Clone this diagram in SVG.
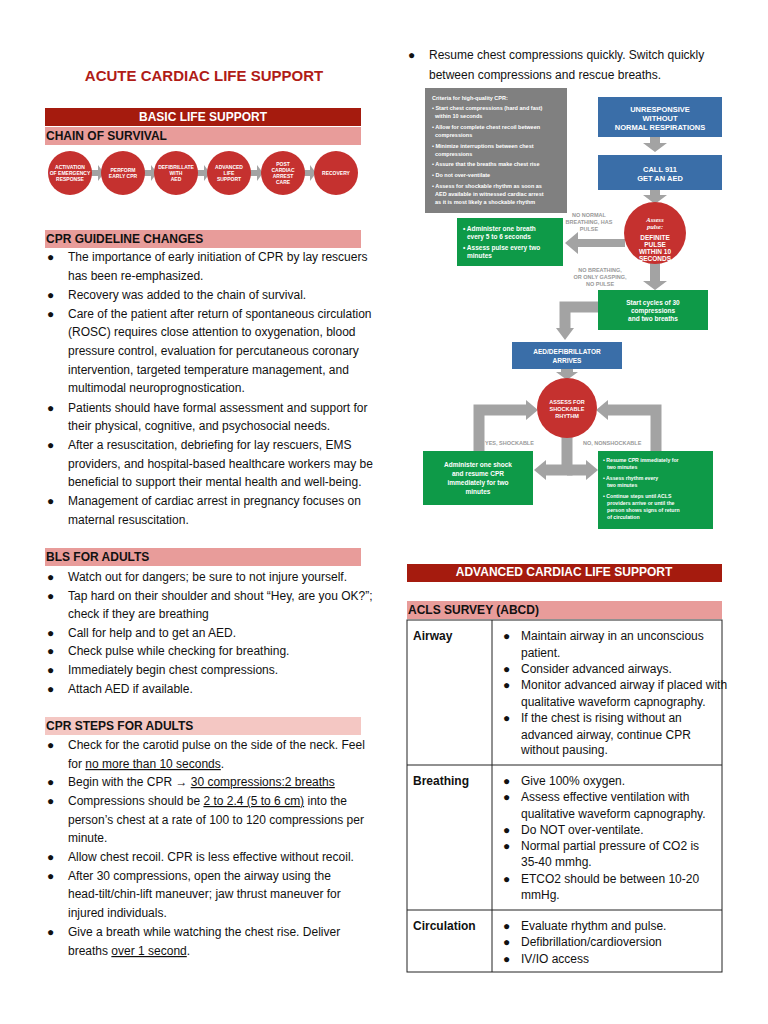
<svg xmlns="http://www.w3.org/2000/svg" width="768" height="1024" viewBox="0 0 768 1024">
<style>
.t{font-family:"Liberation Sans",Arial,sans-serif;font-size:12px;fill:#111}
.b{font-weight:bold}
.hw{font-family:"Liberation Sans",Arial,sans-serif;font-size:12px;font-weight:bold;fill:#fff}
.hp{font-family:"Liberation Sans",Arial,sans-serif;font-size:12px;font-weight:bold;fill:#111}
.f{font-family:"Liberation Sans",Arial,sans-serif;font-weight:bold;fill:#fff}
.g{font-family:"Liberation Sans",Arial,sans-serif;font-weight:bold;fill:#999;font-size:5.5px}
.c{font-family:"Liberation Sans",Arial,sans-serif;font-weight:bold;fill:#fff;font-size:5px}
.ar{stroke:#a3a3a3;stroke-width:11;fill:none}
.ah{fill:#a3a3a3}
.circ{fill:#c5312f}
.grn{fill:#0e9a48}
.blu{fill:#3a6ea8}
.cell{fill:none;stroke:#222;stroke-width:1}
</style>
<rect width="768" height="1024" fill="#fff"/>

<text x="204" y="81" text-anchor="middle" font-family="Liberation Sans,Arial,sans-serif" font-size="15" font-weight="bold" fill="#b01c17">ACUTE CARDIAC LIFE SUPPORT</text>
<rect x="45" y="108" width="316" height="18" fill="#a51b0e"/>
<text x="203" y="121" text-anchor="middle" class="hw">BASIC LIFE SUPPORT</text>
<rect x="45" y="127" width="316" height="18" fill="#e89c9a"/>
<text x="46" y="140" class="hp">CHAIN OF SURVIVAL</text>

<g id="chain">
<g class="ah">
<polygon points="91,170 98,170 98,165 104,173 98,181 98,176 91,176"/>
<polygon points="144,170 151,170 151,165 157,173 151,181 151,176 144,176"/>
<polygon points="197,170 204,170 204,165 210,173 204,181 204,176 197,176"/>
<polygon points="250,170 257,170 257,165 263,173 257,181 257,176 250,176"/>
<polygon points="303,170 310,170 310,165 316,173 310,181 310,176 303,176"/>
</g>
<circle class="circ" cx="70" cy="173" r="22"/><circle class="circ" cx="123" cy="173" r="22"/><circle class="circ" cx="176" cy="173" r="22"/><circle class="circ" cx="229" cy="173" r="22"/><circle class="circ" cx="283" cy="173" r="22"/><circle class="circ" cx="336" cy="173" r="22"/>
<g class="c" text-anchor="middle">
<text x="70" y="169">ACTIVATION</text><text x="70" y="175">OF EMERGENCY</text><text x="70" y="181">RESPONSE</text>
<text x="123" y="172">PERFORM</text><text x="123" y="178">EARLY CPR</text>
<text x="176" y="169">DEFIBRILLATE</text><text x="176" y="175">WITH</text><text x="176" y="181">AED</text>
<text x="229" y="169">ADVANCED</text><text x="229" y="175">LIFE</text><text x="229" y="181">SUPPORT</text>
<text x="283" y="166">POST</text><text x="283" y="172">CARDIAC</text><text x="283" y="178">ARREST</text><text x="283" y="184">CARE</text>
<text x="336" y="175">RECOVERY</text>
</g>
</g>

<rect x="45" y="230" width="316" height="18" fill="#e89c9a"/>
<text x="46" y="243" class="hp">CPR GUIDELINE CHANGES</text>
<g class="t">
<text x="47" y="261">●</text><text x="68" y="261">The importance of early initiation of CPR by lay rescuers</text>
<text x="68" y="280">has been re-emphasized.</text>
<text x="47" y="299">●</text><text x="68" y="299">Recovery was added to the chain of survival.</text>
<text x="47" y="318">●</text><text x="68" y="318">Care of the patient after return of spontaneous circulation</text>
<text x="68" y="336">(ROSC) requires close attention to oxygenation, blood</text>
<text x="68" y="355">pressure control, evaluation for percutaneous coronary</text>
<text x="68" y="374">intervention, targeted temperature management, and</text>
<text x="68" y="392">multimodal neuroprognostication.</text>
<text x="47" y="412">●</text><text x="68" y="412">Patients should have formal assessment and support for</text>
<text x="68" y="430">their physical, cognitive, and psychosocial needs.</text>
<text x="47" y="449">●</text><text x="68" y="449">After a resuscitation, debriefing for lay rescuers, EMS</text>
<text x="68" y="468">providers, and hospital-based healthcare workers may be</text>
<text x="68" y="486">beneficial to support their mental health and well-being.</text>
<text x="47" y="505">●</text><text x="68" y="505">Management of cardiac arrest in pregnancy focuses on</text>
<text x="68" y="524">maternal resuscitation.</text>
</g>

<rect x="45" y="548" width="316" height="18" fill="#e89c9a"/>
<text x="46" y="561" class="hp">BLS FOR ADULTS</text>
<g class="t">
<text x="47" y="581">●</text><text x="68" y="581">Watch out for dangers; be sure to not injure yourself.</text>
<text x="47" y="600">●</text><text x="68" y="600">Tap hard on their shoulder and shout “Hey, are you OK?”;</text>
<text x="68" y="618">check if they are breathing</text>
<text x="47" y="637">●</text><text x="68" y="637">Call for help and to get an AED.</text>
<text x="47" y="655">●</text><text x="68" y="655">Check pulse while checking for breathing.</text>
<text x="47" y="674">●</text><text x="68" y="674">Immediately begin chest compressions.</text>
<text x="47" y="693">●</text><text x="68" y="693">Attach AED if available.</text>
</g>

<rect x="45" y="717" width="316" height="18" fill="#f4c7c3"/>
<text x="46" y="730" class="hp">CPR STEPS FOR ADULTS</text>
<g class="t">
<text x="47" y="749">●</text><text x="68" y="749">Check for the carotid pulse on the side of the neck. Feel</text>
<text x="68" y="768">for <tspan text-decoration="underline">no more than 10 seconds</tspan>.</text>
<text x="47" y="786">●</text><text x="68" y="786">Begin with the CPR → <tspan text-decoration="underline">30 compressions:2 breaths</tspan></text>
<text x="47" y="805">●</text><text x="68" y="805">Compressions should be <tspan text-decoration="underline">2 to 2.4 (5 to 6 cm)</tspan> into the</text>
<text x="68" y="824">person’s chest at a rate of 100 to 120 compressions per</text>
<text x="68" y="842">minute.</text>
<text x="47" y="861">●</text><text x="68" y="861">Allow chest recoil. CPR is less effective without recoil.</text>
<text x="47" y="880">●</text><text x="68" y="880">After 30 compressions, open the airway using the</text>
<text x="68" y="898">head-tilt/chin-lift maneuver; jaw thrust maneuver for</text>
<text x="68" y="917">injured individuals.</text>
<text x="47" y="936">●</text><text x="68" y="936">Give a breath while watching the chest rise. Deliver</text>
<text x="68" y="955">breaths <tspan text-decoration="underline">over 1 second</tspan>.</text>
</g>

<g class="t">
<text x="408" y="59">●</text><text x="429" y="59">Resume chest compressions quickly. Switch quickly</text>
<text x="429" y="79">between compressions and rescue breaths.</text>
</g>

<g id="connectors">
<polygon class="ah" points="650,137 660,137 660,143 667,143 655,152 643,143 650,143"/>
<polygon class="ah" points="650,190 660,190 660,195 667,195 655,204 643,195 650,195"/>
<polygon class="ah" points="625,239 578,239 578,232 565,243 578,254 578,247 625,247"/>
<polygon class="ah" points="650,262 660,262 660,281 667,281 655,290 643,281 650,281"/>
<polyline class="ar" points="598,307 565,307 565,330"/>
<polygon class="ah" points="556,328 574,328 565,340"/>
<polygon class="ah" points="561,369 573,369 573,372 578,372 567,380 556,372 561,372"/>
<polyline class="ar" points="479,452 479,410 528,410"/>
<polygon class="ah" points="526,400 538,410 526,420"/>
<polyline class="ar" points="656,452 656,410 606,410"/>
<polygon class="ah" points="608,400 596,410 608,420"/>
<polyline class="ar" points="567,436 567,470 545,470"/>
<polyline class="ar" points="567,470 587,470"/>
<polygon class="ah" points="546,460 534,470 546,480"/>
<polygon class="ah" points="586,460 598,470 586,480"/>
</g>

<g id="criteria">
<rect x="425" y="88" width="142" height="125" fill="#808080"/>
<g class="f" font-size="5.5">
<text x="432" y="100">Criteria for high-quality CPR:</text>
<text x="432" y="110">• Start chest compressions (hard and fast)</text>
<text x="435" y="118">within 10 seconds</text>
<text x="432" y="129">• Allow for complete chest recoil between</text>
<text x="435" y="137">compressions</text>
<text x="432" y="148">• Minimize interruptions between chest</text>
<text x="435" y="156">compressions</text>
<text x="432" y="166">• Assure that the breaths make chest rise</text>
<text x="432" y="177">• Do not over-ventilate</text>
<text x="432" y="188">• Assess for shockable rhythm as soon as</text>
<text x="435" y="196">AED available in witnessed cardiac arrest</text>
<text x="435" y="204">as it is most likely a shockable rhythm</text>
</g>
</g>
<g id="unresponsive"><rect class="blu" x="598" y="97" width="124" height="40"/>
<g class="f" font-size="7.5" text-anchor="middle"><text x="660" y="112">UNRESPONSIVE</text><text x="660" y="121">WITHOUT</text><text x="660" y="130">NORMAL RESPIRATIONS</text></g></g>
<g id="call911"><rect class="blu" x="598" y="155" width="124" height="35"/>
<g class="f" font-size="7.5" text-anchor="middle"><text x="660" y="172">CALL 911</text><text x="660" y="181">GET AN AED</text></g></g>
<g id="pulse"><circle class="circ" cx="655" cy="233" r="31"/>
<g class="f" text-anchor="middle"><text x="655" y="222" font-size="6.5" font-style="italic" font-family="Liberation Serif,serif">Assess</text><text x="655" y="229" font-size="6.5" font-style="italic" font-family="Liberation Serif,serif">pulse:</text>
<text x="655" y="240" font-size="6.5">DEFINITE</text><text x="655" y="247" font-size="6.5">PULSE</text><text x="655" y="254" font-size="6.5">WITHIN 10</text><text x="655" y="261" font-size="6.5">SECONDS</text></g></g>
<g id="breath"><rect class="grn" x="457" y="218" width="106" height="48"/>
<g class="f" font-size="6.5"><text x="463" y="231">• Administer one breath</text><text x="467" y="239">every 5 to 6 seconds</text><text x="463" y="250">• Assess pulse every two</text><text x="467" y="258">minutes</text></g></g>
<g class="g" text-anchor="middle"><text x="589" y="217">NO NORMAL</text><text x="589" y="224">BREATHING, HAS</text><text x="589" y="231">PULSE</text>
<text x="600" y="272">NO BREATHING,</text><text x="600" y="279">OR ONLY GASPING,</text><text x="600" y="286">NO PULSE</text></g>
<g id="cycles"><rect class="grn" x="598" y="290" width="110" height="40"/>
<g class="f" font-size="6.5" text-anchor="middle"><text x="653" y="305">Start cycles of 30</text><text x="653" y="313">compressions</text><text x="653" y="321">and two breaths</text></g></g>
<g id="aed"><rect class="blu" x="512" y="342" width="110" height="27"/>
<g class="f" font-size="6.5" text-anchor="middle"><text x="567" y="354">AED/DEFIBRILLATOR</text><text x="567" y="363">ARRIVES</text></g></g>
<g id="rhythm"><circle class="circ" cx="567" cy="408" r="30"/>
<g class="f" font-size="5.5" text-anchor="middle"><text x="567" y="404">ASSESS FOR</text><text x="567" y="411">SHOCKABLE</text><text x="567" y="418">RHYTHM</text></g></g>
<g class="g"><text x="485" y="445">YES, SHOCKABLE</text><text x="583" y="445">NO, NONSHOCKABLE</text></g>
<g id="shock"><rect class="grn" x="423" y="451" width="110" height="54"/>
<g class="f" font-size="6.5" text-anchor="middle"><text x="478" y="467">Administer one shock</text><text x="478" y="476">and resume CPR</text><text x="478" y="485">immediately for two</text><text x="478" y="494">minutes</text></g></g>
<g id="resume"><rect class="grn" x="598" y="451" width="115" height="78"/>
<g class="f" font-size="5.2"><text x="603" y="462">• Resume CPR immediately for</text><text x="607" y="469">two minutes</text><text x="603" y="480">• Assess rhythm every</text><text x="607" y="487">two minutes</text><text x="603" y="498">• Continue steps until ACLS</text><text x="607" y="505">providers arrive or until the</text><text x="607" y="512">person shows signs of return</text><text x="607" y="519">of circulation</text></g></g>

<rect x="407" y="564" width="315" height="18" fill="#a51b0e"/>
<text x="564" y="576" text-anchor="middle" class="hw">ADVANCED CARDIAC LIFE SUPPORT</text>
<rect x="407" y="601" width="315" height="18" fill="#e89c9a"/>
<text x="408" y="614" class="hp">ACLS SURVEY (ABCD)</text>

<g id="table">
<rect class="cell" x="407" y="620" width="315" height="352"/>
<line class="cell" x1="492" y1="620" x2="492" y2="972"/>
<line class="cell" x1="407" y1="765" x2="722" y2="765"/>
<line class="cell" x1="407" y1="910" x2="722" y2="910"/>
<g class="t">
<text x="413" y="640" class="b">Airway</text>
<text x="503" y="640">●</text><text x="521" y="640">Maintain airway in an unconscious</text>
<text x="521" y="657">patient.</text>
<text x="503" y="673">●</text><text x="521" y="673">Consider advanced airways.</text>
<text x="503" y="689">●</text><text x="521" y="689">Monitor advanced airway if placed with</text>
<text x="521" y="706">qualitative waveform capnography.</text>
<text x="503" y="722">●</text><text x="521" y="722">If the chest is rising without an</text>
<text x="521" y="739">advanced airway, continue CPR</text>
<text x="521" y="754">without pausing.</text>
<text x="413" y="785" class="b">Breathing</text>
<text x="503" y="785">●</text><text x="521" y="785">Give 100% oxygen.</text>
<text x="503" y="801">●</text><text x="521" y="801">Assess effective ventilation with</text>
<text x="521" y="818">qualitative waveform capnography.</text>
<text x="503" y="834">●</text><text x="521" y="834">Do NOT over-ventilate.</text>
<text x="503" y="850">●</text><text x="521" y="850">Normal partial pressure of CO2 is</text>
<text x="521" y="866">35-40 mmhg.</text>
<text x="503" y="883">●</text><text x="521" y="883">ETCO2 should be between 10-20</text>
<text x="521" y="899">mmHg.</text>
<text x="413" y="930" class="b">Circulation</text>
<text x="503" y="930">●</text><text x="521" y="930">Evaluate rhythm and pulse.</text>
<text x="503" y="946">●</text><text x="521" y="946">Defibrillation/cardioversion</text>
<text x="503" y="963">●</text><text x="521" y="963">IV/IO access</text>
</g>
</g>
</svg>
